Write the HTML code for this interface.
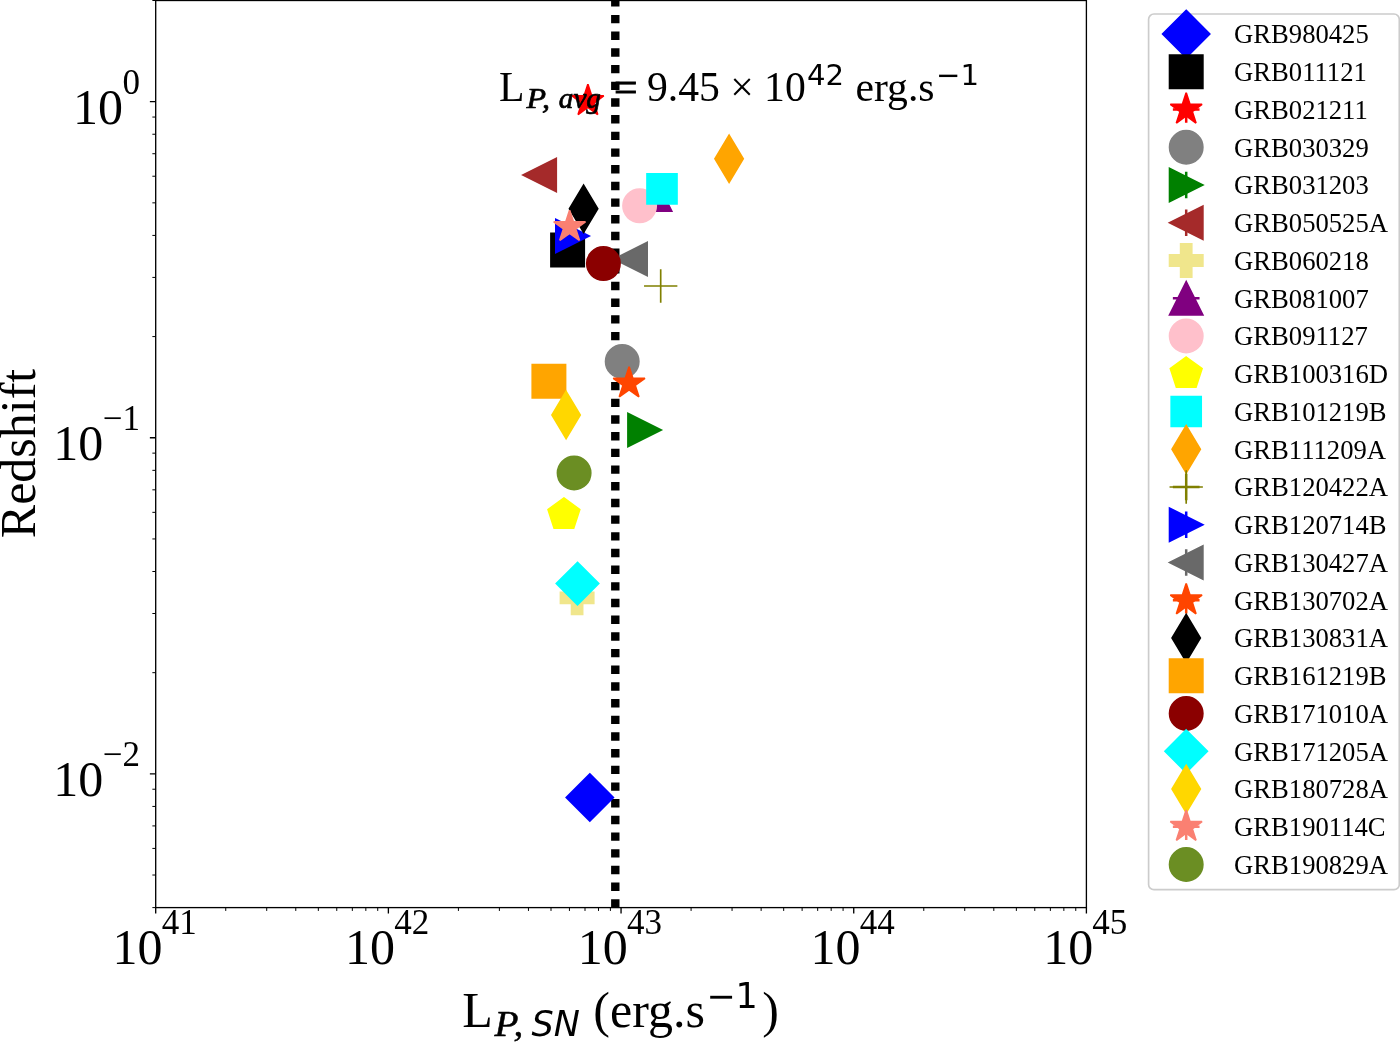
<!DOCTYPE html>
<html><head><meta charset="utf-8"><title>Redshift vs L_P,SN</title>
<style>html,body{margin:0;padding:0;background:#fff}svg{display:block}</style></head>
<body>
<svg width="1400" height="1051" viewBox="0 0 1400 1051">
<rect width="1400" height="1051" fill="#fff"/>
<defs><clipPath id="axclip"><rect x="155.7" y="0.5" width="930.7" height="907.1"/></clipPath></defs>
<g clip-path="url(#axclip)">
<path d="M615.3 907.6 V-19.5" stroke="#000" stroke-width="8.4" stroke-dasharray="8.4 8.285" fill="none"/>
<path d="M589.8 773.93 L613.37 797.5 L589.8 821.07 L566.23 797.5 Z" fill="#0000ff" stroke="#0000ff" stroke-width="1.67" stroke-linejoin="miter" stroke-miterlimit="10"/>
<path d="M550.94 233.34 L584.26 233.34 L584.26 266.67 L550.94 266.67 Z" fill="#000000" stroke="#000000" stroke-width="1.67" stroke-linejoin="miter" stroke-miterlimit="10"/>
<path d="M587.9 84.34 L591.64 95.85 L603.75 95.85 L593.95 102.97 L597.7 114.48 L587.9 107.37 L578.1 114.48 L581.85 102.97 L572.05 95.85 L584.16 95.85 Z" fill="#ff0000" stroke="#ff0000" stroke-width="1.67" stroke-linejoin="bevel" stroke-miterlimit="10"/>
<circle cx="622.2" cy="361.5" r="16.66" fill="#808080" stroke="#808080" stroke-width="1.67"/>
<path d="M661.26 430 L627.94 413.33 L627.94 446.67 Z" fill="#008000" stroke="#008000" stroke-width="1.67" stroke-linejoin="miter" stroke-miterlimit="10"/>
<path d="M522.94 174.9 L556.26 158.24 L556.26 191.56 Z" fill="#a52a2a" stroke="#a52a2a" stroke-width="1.67" stroke-linejoin="miter" stroke-miterlimit="10"/>
<path d="M571.55 581.13 L582.65 581.13 L582.65 592.25 L593.76 592.25 L593.76 603.35 L582.65 603.35 L582.65 614.46 L571.55 614.46 L571.55 603.35 L560.44 603.35 L560.44 592.25 L571.55 592.25 Z" fill="#f0e68c" stroke="#f0e68c" stroke-width="1.67" stroke-linejoin="miter" stroke-miterlimit="10"/>
<path d="M655.1 177.74 L638.44 211.06 L671.76 211.06 Z" fill="#800080" stroke="#800080" stroke-width="1.67" stroke-linejoin="miter" stroke-miterlimit="10"/>
<circle cx="639.6" cy="205.8" r="16.66" fill="#ffc0cb" stroke="#ffc0cb" stroke-width="1.67"/>
<path d="M563.9 497.94 L579.75 509.45 L573.7 528.08 L554.1 528.08 L548.05 509.45 Z" fill="#ffff00" stroke="#ffff00" stroke-width="1.67" stroke-linejoin="miter" stroke-miterlimit="10"/>
<path d="M647 173.8 L677 173.8 L677 203.8 L647 203.8 Z" fill="#00ffff" stroke="#00ffff" stroke-width="1.67" stroke-linejoin="miter" stroke-miterlimit="10"/>
<path d="M729.1 135.13 L743.24 158.7 L729.1 182.27 L714.96 158.7 Z" fill="#ffa500" stroke="#ffa500" stroke-width="1.67" stroke-linejoin="miter" stroke-miterlimit="10"/>
<path d="M644.04 286 H677.37 M660.7 269.33 V302.67" fill="none" stroke="#808000" stroke-width="1.67"/>
<path d="M589.16 236.1 L555.84 219.44 L555.84 252.76 Z" fill="#0000ff" stroke="#0000ff" stroke-width="1.67" stroke-linejoin="miter" stroke-miterlimit="10"/>
<path d="M613.84 259.1 L647.16 242.44 L647.16 275.77 Z" fill="#696969" stroke="#696969" stroke-width="1.67" stroke-linejoin="miter" stroke-miterlimit="10"/>
<path d="M629.1 366.73 L632.84 378.25 L644.95 378.25 L635.15 385.37 L638.9 396.88 L629.1 389.77 L619.3 396.88 L623.05 385.37 L613.25 378.25 L625.36 378.25 Z" fill="#ff4500" stroke="#ff4500" stroke-width="1.67" stroke-linejoin="bevel" stroke-miterlimit="10"/>
<path d="M583.6 185.23 L597.74 208.8 L583.6 232.37 L569.46 208.8 Z" fill="#000000" stroke="#000000" stroke-width="1.67" stroke-linejoin="miter" stroke-miterlimit="10"/>
<path d="M532.24 364.53 L565.56 364.53 L565.56 397.87 L532.24 397.87 Z" fill="#ffa500" stroke="#ffa500" stroke-width="1.67" stroke-linejoin="miter" stroke-miterlimit="10"/>
<circle cx="603.4" cy="263.6" r="16.66" fill="#8b0000" stroke="#8b0000" stroke-width="1.67"/>
<path d="M577.5 562.39 L598.71 583.6 L577.5 604.81 L556.29 583.6 Z" fill="#00ffff" stroke="#00ffff" stroke-width="1.67" stroke-linejoin="miter" stroke-miterlimit="10"/>
<path d="M566.1 391.43 L580.24 415 L566.1 438.57 L551.96 415 Z" fill="#ffd700" stroke="#ffd700" stroke-width="1.67" stroke-linejoin="miter" stroke-miterlimit="10"/>
<path d="M569.6 210.24 L573.34 221.75 L585.45 221.75 L575.65 228.87 L579.4 240.38 L569.6 233.27 L559.8 240.38 L563.55 228.87 L553.75 221.75 L565.86 221.75 Z" fill="#fa8072" stroke="#fa8072" stroke-width="1.67" stroke-linejoin="bevel" stroke-miterlimit="10"/>
<circle cx="574.1" cy="473" r="16.66" fill="#6b8e23" stroke="#6b8e23" stroke-width="1.67"/>
</g>
<path d="M155.7 907.6 v5.83 M388.38 907.6 v5.83 M621.05 907.6 v5.83 M853.73 907.6 v5.83 M1086.4 907.6 v5.83" stroke="#000" stroke-width="1.33" fill="none"/>
<path d="M225.74 907.6 v3.33 M266.71 907.6 v3.33 M295.78 907.6 v3.33 M318.33 907.6 v3.33 M336.76 907.6 v3.33 M352.33 907.6 v3.33 M365.83 907.6 v3.33 M377.73 907.6 v3.33 M458.42 907.6 v3.33 M499.39 907.6 v3.33 M528.46 907.6 v3.33 M551.01 907.6 v3.33 M569.43 907.6 v3.33 M585.01 907.6 v3.33 M598.5 907.6 v3.33 M610.4 907.6 v3.33 M691.09 907.6 v3.33 M732.06 907.6 v3.33 M761.13 907.6 v3.33 M783.68 907.6 v3.33 M802.11 907.6 v3.33 M817.68 907.6 v3.33 M831.18 907.6 v3.33 M843.08 907.6 v3.33 M923.77 907.6 v3.33 M964.74 907.6 v3.33 M993.81 907.6 v3.33 M1016.36 907.6 v3.33 M1034.78 907.6 v3.33 M1050.36 907.6 v3.33 M1063.85 907.6 v3.33 M1075.75 907.6 v3.33" stroke="#000" stroke-width="1" fill="none"/>
<path d="M155.7 101.67 h-5.83 M155.7 437.76 h-5.83 M155.7 773.86 h-5.83" stroke="#000" stroke-width="1.33" fill="none"/>
<path d="M155.7 907.6 h-3.33 M155.7 875.03 h-3.33 M155.7 848.42 h-3.33 M155.7 825.92 h-3.33 M155.7 806.43 h-3.33 M155.7 789.23 h-3.33 M155.7 672.68 h-3.33 M155.7 613.5 h-3.33 M155.7 571.51 h-3.33 M155.7 538.94 h-3.33 M155.7 512.33 h-3.33 M155.7 489.83 h-3.33 M155.7 470.34 h-3.33 M155.7 453.14 h-3.33 M155.7 336.59 h-3.33 M155.7 277.41 h-3.33 M155.7 235.42 h-3.33 M155.7 202.85 h-3.33 M155.7 176.23 h-3.33 M155.7 153.73 h-3.33 M155.7 134.24 h-3.33 M155.7 117.05 h-3.33 M155.7 0.5 h-3.33" stroke="#000" stroke-width="1" fill="none"/>
<rect x="155.7" y="0.5" width="930.7" height="907.1" fill="none" stroke="#000" stroke-width="1.33"/>
<text x="112.45" y="964.3" font-size="50" font-family="Liberation Serif, serif">10</text>
<text x="161.65" y="934.3" font-size="35" font-family="Liberation Serif, serif">41</text>
<text x="345.12" y="964.3" font-size="50" font-family="Liberation Serif, serif">10</text>
<text x="394.32" y="934.3" font-size="35" font-family="Liberation Serif, serif">42</text>
<text x="577.8" y="964.3" font-size="50" font-family="Liberation Serif, serif">10</text>
<text x="627" y="934.3" font-size="35" font-family="Liberation Serif, serif">43</text>
<text x="810.48" y="964.3" font-size="50" font-family="Liberation Serif, serif">10</text>
<text x="859.68" y="934.3" font-size="35" font-family="Liberation Serif, serif">44</text>
<text x="1043.15" y="964.3" font-size="50" font-family="Liberation Serif, serif">10</text>
<text x="1092.35" y="934.3" font-size="35" font-family="Liberation Serif, serif">45</text>
<text x="140" y="93.97" font-size="35" text-anchor="end" font-family="Liberation Serif, serif">0</text>
<text x="123" y="123.97" font-size="50" text-anchor="end" font-family="Liberation Serif, serif">10</text>
<text x="140" y="430.06" font-size="35" text-anchor="end" font-family="Liberation Serif, serif">−1</text>
<text x="103.26" y="460.06" font-size="50" text-anchor="end" font-family="Liberation Serif, serif">10</text>
<text x="140" y="766.16" font-size="35" text-anchor="end" font-family="Liberation Serif, serif">−2</text>
<text x="103.26" y="796.16" font-size="50" text-anchor="end" font-family="Liberation Serif, serif">10</text>
<text transform="translate(34.5 453.5) rotate(-90)" text-anchor="middle" font-size="50" font-family="Liberation Serif, serif">Redshift</text>
<text x="462.3" y="1027.4" font-size="50" font-family="Liberation Serif, serif">L</text>
<text transform="translate(494.6 1035.7) scale(1.12 1)" font-size="35" font-style="italic" stroke="#000" stroke-width="0.5" font-family="Liberation Serif, serif">P,</text>
<text x="531.5" y="1035.7" font-size="35" font-style="italic" font-family="DejaVu Sans, sans-serif">SN</text>
<text x="593.3" y="1027.4" font-size="50" font-family="Liberation Serif, serif">(erg.s</text>
<text x="706.3" y="1008.2" font-size="35" font-family="DejaVu Sans, sans-serif">−1</text>
<text x="762.2" y="1027.4" font-size="50" font-family="Liberation Serif, serif">)</text>
<text x="499" y="101.2" font-size="41.67" font-family="Liberation Serif, serif">L</text>
<text transform="translate(526.6 107.6) scale(1.1 1)" font-size="29.17" font-style="italic" stroke="#000" stroke-width="0.7" font-family="Liberation Serif, serif">P,</text>
<text x="558.8" y="107.6" font-size="29.17" font-style="italic" stroke="#000" stroke-width="0.7" font-family="Liberation Serif, serif">avg</text>
<text x="614" y="100.6" font-size="41.67" stroke="#000" stroke-width="0.9" font-family="Liberation Serif, serif">=</text>
<text x="646.9" y="101.2" font-size="41.67" font-family="Liberation Serif, serif">9.45 × 10</text>
<text x="807" y="84.7" font-size="29.17" font-family="DejaVu Sans, sans-serif">42</text>
<text x="855.5" y="101.2" font-size="41.67" font-family="Liberation Serif, serif">erg.s</text>
<text x="936" y="84.7" font-size="29.17" font-family="DejaVu Sans, sans-serif">−1</text>
<rect x="1148.6" y="14" width="250.7" height="875.7" rx="5.3" ry="5.3" fill="#fff" fill-opacity="0.8" stroke="#cccccc" stroke-width="1.67"/>
<path d="M1172.87 34 H1199.54 M1186.2 20.66 V47.34" stroke="#0000ff" stroke-width="2.5" fill="none"/>
<path d="M1186.2 10.43 L1209.77 34 L1186.2 57.57 L1162.63 34 Z" fill="#0000ff" stroke="#0000ff" stroke-width="1.67" stroke-linejoin="miter" stroke-miterlimit="10"/>
<text x="1234" y="43.4" font-size="26.67" font-family="Liberation Serif, serif">GRB980425</text>
<path d="M1172.87 71.75 H1199.54 M1186.2 58.41 V85.09" stroke="#000000" stroke-width="2.5" fill="none"/>
<path d="M1169.54 55.09 L1202.87 55.09 L1202.87 88.41 L1169.54 88.41 Z" fill="#000000" stroke="#000000" stroke-width="1.67" stroke-linejoin="miter" stroke-miterlimit="10"/>
<text x="1234" y="81.15" font-size="26.67" font-family="Liberation Serif, serif">GRB011121</text>
<path d="M1172.87 109.5 H1199.54 M1186.2 96.16 V122.84" stroke="#ff0000" stroke-width="2.5" fill="none"/>
<path d="M1186.2 92.84 L1189.94 104.35 L1202.05 104.35 L1192.25 111.47 L1196 122.98 L1186.2 115.87 L1176.4 122.98 L1180.15 111.47 L1170.35 104.35 L1182.46 104.35 Z" fill="#ff0000" stroke="#ff0000" stroke-width="1.67" stroke-linejoin="bevel" stroke-miterlimit="10"/>
<text x="1234" y="118.9" font-size="26.67" font-family="Liberation Serif, serif">GRB021211</text>
<path d="M1172.87 147.25 H1199.54 M1186.2 133.91 V160.59" stroke="#808080" stroke-width="2.5" fill="none"/>
<circle cx="1186.2" cy="147.25" r="16.66" fill="#808080" stroke="#808080" stroke-width="1.67"/>
<text x="1234" y="156.65" font-size="26.67" font-family="Liberation Serif, serif">GRB030329</text>
<path d="M1172.87 185 H1199.54 M1186.2 171.66 V198.34" stroke="#008000" stroke-width="2.5" fill="none"/>
<path d="M1202.87 185 L1169.54 168.34 L1169.54 201.66 Z" fill="#008000" stroke="#008000" stroke-width="1.67" stroke-linejoin="miter" stroke-miterlimit="10"/>
<text x="1234" y="194.4" font-size="26.67" font-family="Liberation Serif, serif">GRB031203</text>
<path d="M1172.87 222.75 H1199.54 M1186.2 209.41 V236.09" stroke="#a52a2a" stroke-width="2.5" fill="none"/>
<path d="M1169.54 222.75 L1202.87 206.09 L1202.87 239.41 Z" fill="#a52a2a" stroke="#a52a2a" stroke-width="1.67" stroke-linejoin="miter" stroke-miterlimit="10"/>
<text x="1234" y="232.15" font-size="26.67" font-family="Liberation Serif, serif">GRB050525A</text>
<path d="M1172.87 260.5 H1199.54 M1186.2 247.16 V273.83" stroke="#f0e68c" stroke-width="2.5" fill="none"/>
<path d="M1180.64 243.84 L1191.76 243.84 L1191.76 254.94 L1202.87 254.94 L1202.87 266.06 L1191.76 266.06 L1191.76 277.17 L1180.64 277.17 L1180.64 266.06 L1169.54 266.06 L1169.54 254.94 L1180.64 254.94 Z" fill="#f0e68c" stroke="#f0e68c" stroke-width="1.67" stroke-linejoin="miter" stroke-miterlimit="10"/>
<text x="1234" y="269.9" font-size="26.67" font-family="Liberation Serif, serif">GRB060218</text>
<path d="M1172.87 298.25 H1199.54 M1186.2 284.92 V311.58" stroke="#800080" stroke-width="2.5" fill="none"/>
<path d="M1186.2 281.58 L1169.54 314.92 L1202.87 314.92 Z" fill="#800080" stroke="#800080" stroke-width="1.67" stroke-linejoin="miter" stroke-miterlimit="10"/>
<text x="1234" y="307.65" font-size="26.67" font-family="Liberation Serif, serif">GRB081007</text>
<path d="M1172.87 336 H1199.54 M1186.2 322.67 V349.33" stroke="#ffc0cb" stroke-width="2.5" fill="none"/>
<circle cx="1186.2" cy="336" r="16.66" fill="#ffc0cb" stroke="#ffc0cb" stroke-width="1.67"/>
<text x="1234" y="345.4" font-size="26.67" font-family="Liberation Serif, serif">GRB091127</text>
<path d="M1172.87 373.75 H1199.54 M1186.2 360.42 V387.08" stroke="#ffff00" stroke-width="2.5" fill="none"/>
<path d="M1186.2 357.08 L1202.05 368.6 L1196 387.23 L1176.4 387.23 L1170.35 368.6 Z" fill="#ffff00" stroke="#ffff00" stroke-width="1.67" stroke-linejoin="miter" stroke-miterlimit="10"/>
<text x="1234" y="383.15" font-size="26.67" font-family="Liberation Serif, serif">GRB100316D</text>
<path d="M1172.87 411.5 H1199.54 M1186.2 398.17 V424.83" stroke="#00ffff" stroke-width="2.5" fill="none"/>
<path d="M1171.2 396.5 L1201.2 396.5 L1201.2 426.5 L1171.2 426.5 Z" fill="#00ffff" stroke="#00ffff" stroke-width="1.67" stroke-linejoin="miter" stroke-miterlimit="10"/>
<text x="1234" y="420.9" font-size="26.67" font-family="Liberation Serif, serif">GRB101219B</text>
<path d="M1172.87 449.25 H1199.54 M1186.2 435.92 V462.58" stroke="#ffa500" stroke-width="2.5" fill="none"/>
<path d="M1186.2 425.68 L1200.34 449.25 L1186.2 472.82 L1172.06 449.25 Z" fill="#ffa500" stroke="#ffa500" stroke-width="1.67" stroke-linejoin="miter" stroke-miterlimit="10"/>
<text x="1234" y="458.65" font-size="26.67" font-family="Liberation Serif, serif">GRB111209A</text>
<path d="M1172.87 487 H1199.54 M1186.2 473.67 V500.33" stroke="#808000" stroke-width="2.5" fill="none"/>
<path d="M1169.54 487 H1202.87 M1186.2 470.33 V503.67" fill="none" stroke="#808000" stroke-width="1.67"/>
<text x="1234" y="496.4" font-size="26.67" font-family="Liberation Serif, serif">GRB120422A</text>
<path d="M1172.87 524.75 H1199.54 M1186.2 511.42 V538.09" stroke="#0000ff" stroke-width="2.5" fill="none"/>
<path d="M1202.87 524.75 L1169.54 508.08 L1169.54 541.41 Z" fill="#0000ff" stroke="#0000ff" stroke-width="1.67" stroke-linejoin="miter" stroke-miterlimit="10"/>
<text x="1234" y="534.15" font-size="26.67" font-family="Liberation Serif, serif">GRB120714B</text>
<path d="M1172.87 562.5 H1199.54 M1186.2 549.16 V575.84" stroke="#696969" stroke-width="2.5" fill="none"/>
<path d="M1169.54 562.5 L1202.87 545.84 L1202.87 579.16 Z" fill="#696969" stroke="#696969" stroke-width="1.67" stroke-linejoin="miter" stroke-miterlimit="10"/>
<text x="1234" y="571.9" font-size="26.67" font-family="Liberation Serif, serif">GRB130427A</text>
<path d="M1172.87 600.25 H1199.54 M1186.2 586.91 V613.59" stroke="#ff4500" stroke-width="2.5" fill="none"/>
<path d="M1186.2 583.59 L1189.94 595.1 L1202.05 595.1 L1192.25 602.22 L1196 613.73 L1186.2 606.62 L1176.4 613.73 L1180.15 602.22 L1170.35 595.1 L1182.46 595.1 Z" fill="#ff4500" stroke="#ff4500" stroke-width="1.67" stroke-linejoin="bevel" stroke-miterlimit="10"/>
<text x="1234" y="609.65" font-size="26.67" font-family="Liberation Serif, serif">GRB130702A</text>
<path d="M1172.87 638 H1199.54 M1186.2 624.66 V651.34" stroke="#000000" stroke-width="2.5" fill="none"/>
<path d="M1186.2 614.43 L1200.34 638 L1186.2 661.57 L1172.06 638 Z" fill="#000000" stroke="#000000" stroke-width="1.67" stroke-linejoin="miter" stroke-miterlimit="10"/>
<text x="1234" y="647.4" font-size="26.67" font-family="Liberation Serif, serif">GRB130831A</text>
<path d="M1172.87 675.75 H1199.54 M1186.2 662.41 V689.09" stroke="#ffa500" stroke-width="2.5" fill="none"/>
<path d="M1169.54 659.09 L1202.87 659.09 L1202.87 692.41 L1169.54 692.41 Z" fill="#ffa500" stroke="#ffa500" stroke-width="1.67" stroke-linejoin="miter" stroke-miterlimit="10"/>
<text x="1234" y="685.15" font-size="26.67" font-family="Liberation Serif, serif">GRB161219B</text>
<path d="M1172.87 713.5 H1199.54 M1186.2 700.16 V726.84" stroke="#8b0000" stroke-width="2.5" fill="none"/>
<circle cx="1186.2" cy="713.5" r="16.66" fill="#8b0000" stroke="#8b0000" stroke-width="1.67"/>
<text x="1234" y="722.9" font-size="26.67" font-family="Liberation Serif, serif">GRB171010A</text>
<path d="M1172.87 751.25 H1199.54 M1186.2 737.91 V764.59" stroke="#00ffff" stroke-width="2.5" fill="none"/>
<path d="M1186.2 730.04 L1207.41 751.25 L1186.2 772.46 L1164.99 751.25 Z" fill="#00ffff" stroke="#00ffff" stroke-width="1.67" stroke-linejoin="miter" stroke-miterlimit="10"/>
<text x="1234" y="760.65" font-size="26.67" font-family="Liberation Serif, serif">GRB171205A</text>
<path d="M1172.87 789 H1199.54 M1186.2 775.66 V802.34" stroke="#ffd700" stroke-width="2.5" fill="none"/>
<path d="M1186.2 765.43 L1200.34 789 L1186.2 812.57 L1172.06 789 Z" fill="#ffd700" stroke="#ffd700" stroke-width="1.67" stroke-linejoin="miter" stroke-miterlimit="10"/>
<text x="1234" y="798.4" font-size="26.67" font-family="Liberation Serif, serif">GRB180728A</text>
<path d="M1172.87 826.75 H1199.54 M1186.2 813.41 V840.09" stroke="#fa8072" stroke-width="2.5" fill="none"/>
<path d="M1186.2 810.09 L1189.94 821.6 L1202.05 821.6 L1192.25 828.72 L1196 840.23 L1186.2 833.12 L1176.4 840.23 L1180.15 828.72 L1170.35 821.6 L1182.46 821.6 Z" fill="#fa8072" stroke="#fa8072" stroke-width="1.67" stroke-linejoin="bevel" stroke-miterlimit="10"/>
<text x="1234" y="836.15" font-size="26.67" font-family="Liberation Serif, serif">GRB190114C</text>
<path d="M1172.87 864.5 H1199.54 M1186.2 851.16 V877.84" stroke="#6b8e23" stroke-width="2.5" fill="none"/>
<circle cx="1186.2" cy="864.5" r="16.66" fill="#6b8e23" stroke="#6b8e23" stroke-width="1.67"/>
<text x="1234" y="873.9" font-size="26.67" font-family="Liberation Serif, serif">GRB190829A</text>
</svg>
</body></html>
